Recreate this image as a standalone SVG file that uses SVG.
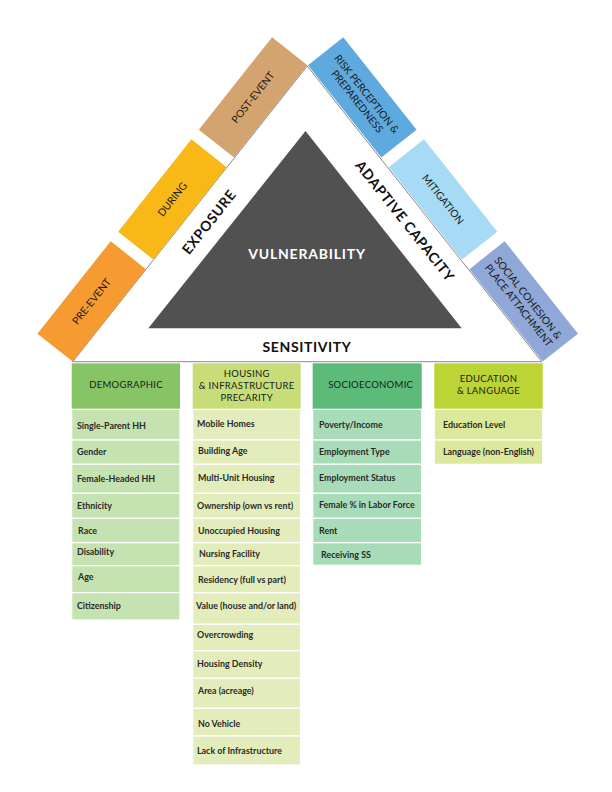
<svg xmlns="http://www.w3.org/2000/svg" width="612" height="792" viewBox="0 0 612 792">
<style>
text{font-family:Lato,"Open Sans","Liberation Sans",sans-serif}
.bx{font-size:10.3px;fill:#1a1a1a}
.big{font-size:14px;font-weight:bold;fill:#111;letter-spacing:0.6px}
.hd{font-size:9.5px;fill:#1a1a1a;letter-spacing:0.3px}
.rw{font-size:8.9px;font-weight:bold;fill:#2a2a2a}
.sep{stroke:#fff;stroke-width:1.2}
</style>
<rect width="612" height="792" fill="#fff"/>
<g id="outer-triangle">
<polygon points="72.7,361.7 307.2,66 541.7,361.7" fill="#fff" stroke="#8a8a8a" stroke-width="1"/>
</g>
<g id="pre-event" transform="translate(91.7,301.4) rotate(-51.6)">
<rect x="-59" y="-22.5" width="118" height="45" fill="#F69A32"/>
<text class="bx" x="0" y="3.5" text-anchor="middle">PRE-EVENT</text>
</g>
<g id="during" transform="translate(172.4,199.4) rotate(-51.6)">
<rect x="-59" y="-22.5" width="118" height="45" fill="#F8B918"/>
<text class="bx" x="0" y="3.5" text-anchor="middle">DURING</text>
</g>
<g id="post-event" transform="translate(253.1,97.4) rotate(-51.6)">
<rect x="-59" y="-22.5" width="118" height="45" fill="#D4A470"/>
<text class="bx" x="0" y="3.5" text-anchor="middle">POST-EVENT</text>
</g>
<g id="risk-perception" transform="translate(362.3,97.4) rotate(51.6)">
<rect x="-59" y="-22.5" width="118" height="45" fill="#5EAADE"/>
<text class="bx" x="0" y="-2" text-anchor="middle">RISK PERCEPTION &amp;</text>
<text class="bx" x="0" y="10" text-anchor="middle">PREPAREDNESS</text>
</g>
<g id="mitigation" transform="translate(443,199.4) rotate(51.6)">
<rect x="-59" y="-22.5" width="118" height="45" fill="#A6DAF5"/>
<text class="bx" x="0" y="3.5" text-anchor="middle">MITIGATION</text>
</g>
<g id="social-cohesion" transform="translate(523.7,301.4) rotate(51.6)">
<rect x="-59" y="-22.5" width="118" height="45" fill="#8FA8D7"/>
<text class="bx" x="0" y="-2" text-anchor="middle">SOCIAL COHESION &amp;</text>
<text class="bx" x="0" y="10" text-anchor="middle">PLACE ATTACHMENT</text>
</g>
<g id="vulnerability">
<polygon points="305.5,131 148.3,328.3 461.7,328.3" fill="#515151"/>
<text x="307" y="259" text-anchor="middle" style="font-size:14px;font-weight:bold;fill:#fff;letter-spacing:0.8px">VULNERABILITY</text>
</g>
<g id="exposure" transform="translate(209,222) rotate(-51.6)">
<text class="big" x="0" y="5" text-anchor="middle">EXPOSURE</text>
</g>
<g id="adaptive-capacity" transform="translate(405,221) rotate(51.6)">
<text class="big" x="0" y="5" text-anchor="middle">ADAPTIVE CAPACITY</text>
</g>
<g id="sensitivity">
<text class="big" x="307" y="352" text-anchor="middle">SENSITIVITY</text>
</g>
<g id="connectors"></g>
<g id="demographic">
<rect x="71.7" y="363.3" width="108.3" height="46" fill="#86C466"/>
<text class="hd" x="126" y="388" text-anchor="middle">DEMOGRAPHIC</text>
<g fill="#C4E3B0" class="sep">
<rect x="71.7" y="409.3" width="108.3" height="30.7"/>
<rect x="71.7" y="440" width="108.3" height="24.3"/>
<rect x="71.7" y="464.3" width="108.3" height="29"/>
<rect x="71.7" y="493.3" width="108.3" height="25"/>
<rect x="71.7" y="518.3" width="108.3" height="24.4"/>
<rect x="71.7" y="542.7" width="108.3" height="23"/>
<rect x="71.7" y="565.7" width="108.3" height="27"/>
<rect x="71.7" y="592.7" width="108.3" height="27.3"/>
</g>
<text class="rw" x="77" y="429">Single-Parent HH</text>
<text class="rw" x="77" y="455">Gender</text>
<text class="rw" x="77" y="482">Female-Headed HH</text>
<text class="rw" x="77" y="509">Ethnicity</text>
<text class="rw" x="78" y="534">Race</text>
<text class="rw" x="77" y="555">Disability</text>
<text class="rw" x="78" y="580">Age</text>
<text class="rw" x="77" y="609">Citizenship</text>
</g>
<g id="housing">
<rect x="192.7" y="363.3" width="108" height="46" fill="#C6DD78"/>
<text class="hd" x="246.7" y="377" text-anchor="middle">HOUSING</text>
<text class="hd" x="246.7" y="389" text-anchor="middle">&amp; INFRASTRUCTURE</text>
<text class="hd" x="246.7" y="401" text-anchor="middle">PRECARITY</text>
<g fill="#E3EDBB" class="sep">
<rect x="192.7" y="409.3" width="108" height="30.7"/>
<rect x="192.7" y="440" width="108" height="24.3"/>
<rect x="192.7" y="464.3" width="108" height="29"/>
<rect x="192.7" y="493.3" width="108" height="25"/>
<rect x="192.7" y="518.3" width="108" height="24.4"/>
<rect x="192.7" y="542.7" width="108" height="23"/>
<rect x="192.7" y="565.7" width="108" height="27"/>
<rect x="192.7" y="592.7" width="108" height="31.6"/>
<rect x="192.7" y="624.3" width="108" height="26.4"/>
<rect x="192.7" y="650.7" width="108" height="27.6"/>
<rect x="192.7" y="678.3" width="108" height="30"/>
<rect x="192.7" y="708.3" width="108" height="27.7"/>
<rect x="192.7" y="736" width="108" height="29"/>
</g>
<text class="rw" x="197" y="427">Mobile Homes</text>
<text class="rw" x="198" y="454">Building Age</text>
<text class="rw" x="198" y="481">Multi-Unit Housing</text>
<text class="rw" x="197" y="509">Ownership (own vs rent)</text>
<text class="rw" x="198" y="534">Unoccupied Housing</text>
<text class="rw" x="199" y="557">Nursing Facility</text>
<text class="rw" x="198" y="583">Residency (full vs part)</text>
<text class="rw" x="196" y="609">Value (house and/or land)</text>
<text class="rw" x="197" y="638">Overcrowding</text>
<text class="rw" x="197" y="667">Housing Density</text>
<text class="rw" x="198" y="694">Area (acreage)</text>
<text class="rw" x="198" y="727">No Vehicle</text>
<text class="rw" x="197" y="754">Lack of Infrastructure</text>
</g>
<g id="socioeconomic">
<rect x="312.7" y="363.3" width="109" height="46" fill="#5CBB78"/>
<text class="hd" x="370.7" y="388" text-anchor="middle">SOCIOECONOMIC</text>
<g fill="#A8DCB9" class="sep">
<rect x="312.7" y="409.3" width="109" height="30.7"/>
<rect x="312.7" y="440" width="109" height="24.3"/>
<rect x="312.7" y="464.3" width="109" height="29"/>
<rect x="312.7" y="493.3" width="109" height="25"/>
<rect x="312.7" y="518.3" width="109" height="24.4"/>
<rect x="312.7" y="542.7" width="109" height="22.6"/>
</g>
<text class="rw" x="319" y="428">Poverty/Income</text>
<text class="rw" x="319" y="455">Employment Type</text>
<text class="rw" x="319" y="481">Employment Status</text>
<text class="rw" x="319" y="508">Female % in Labor Force</text>
<text class="rw" x="319" y="534">Rent</text>
<text class="rw" x="321" y="558">Receiving SS</text>
</g>
<g id="education">
<rect x="434.3" y="363.3" width="108.4" height="46" fill="#BCD435"/>
<text class="hd" x="488.5" y="382" text-anchor="middle">EDUCATION</text>
<text class="hd" x="488.5" y="394" text-anchor="middle">&amp; LANGUAGE</text>
<g fill="#DDE99A" class="sep">
<rect x="434.3" y="409.3" width="108.4" height="30.7"/>
<rect x="434.3" y="440" width="108.4" height="24.3"/>
</g>
<text class="rw" x="443" y="428">Education Level</text>
<text class="rw" x="443" y="455">Language (non-English)</text>
</g>
</svg>
